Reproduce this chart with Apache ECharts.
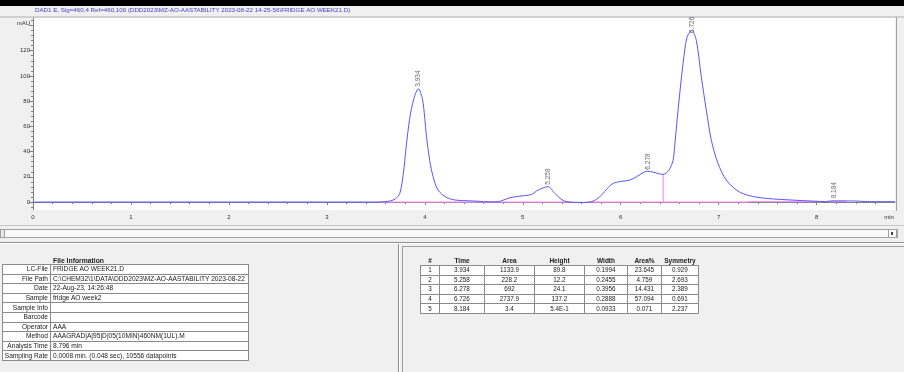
<!DOCTYPE html>
<html><head><meta charset="utf-8">
<script src="https://cdn.jsdelivr.net/npm/echarts@6/dist/echarts.min.js"></script>
<style>
body{margin:0;width:904px;height:372px;overflow:hidden;background:#f0f0f0;font-family:"Liberation Sans",Arial,sans-serif;position:relative;}
#c{position:absolute;left:0;top:0;width:904px;height:372px;}
.abs{position:absolute;}
table{border-collapse:collapse;font-size:6.3px;color:#202020;table-layout:fixed;}
td{border:1px solid #8a8a8a;height:8.6px;padding:0;line-height:8px;white-space:nowrap;overflow:hidden;background:#fff;}
#fi{font-size:6.6px;}
#fi td.l{text-align:right;padding-right:2px;}
#fi td.v{text-align:left;padding-left:2px;}
#pk td{text-align:center;}
#pk th{font-weight:bold;font-size:6.5px;height:8px;padding:0;line-height:8px;text-align:center;border:none;background:transparent;}
</style>
</head><body>
<div id="c"></div>
<!-- scroll bar + separators -->
<div class="abs" style="left:0;top:225px;width:904px;height:1px;background:#c8c8c8"></div>
<div class="abs" style="left:0;top:229px;width:896px;height:7px;border:1px solid #a0a0a0;background:#f8f8f8"></div>
<div class="abs" style="left:0;top:229px;width:3px;height:7px;border:1px solid #a0a0a0;background:#e8e8e8"></div>
<div class="abs" style="left:888px;top:229px;width:7px;height:7px;border:1px solid #a0a0a0;background:#fff"></div>
<div class="abs" style="left:891px;top:232px;width:2px;height:3px;background:#404040"></div>
<div class="abs" style="left:0;top:242px;width:904px;height:1px;background:#909090"></div>
<div class="abs" style="left:0;top:243px;width:904px;height:1px;background:#ffffff"></div>
<div class="abs" style="left:398px;top:244px;width:1px;height:128px;background:#909090"></div>
<div class="abs" style="left:399px;top:244px;width:1px;height:128px;background:#ffffff"></div>
<div class="abs" style="left:402px;top:246px;width:1px;height:126px;background:#a0a0a0"></div>
<div class="abs" style="left:403px;top:246px;width:501px;height:1px;background:#a0a0a0"></div>

<div class="abs" style="left:53px;top:257px;font-size:6.8px;font-weight:bold;color:#202020;">File Information</div>
<table id="fi" class="abs" style="left:2px;top:264px;"></table>
<table id="pk" class="abs" style="left:420px;top:257px;"></table>

<script>
// ---- chromatogram ----
const signalTime = [0.00,0.50,1.00,2.00,3.00,3.50,3.60,3.65,3.70,3.745,3.78,3.81,3.845,3.888,3.934,3.975,4.00,4.017,4.05,4.085,4.135,4.22,4.32,4.45,4.55,4.65,4.75,4.80,4.867,4.95,5.088,5.156,5.258,5.327,5.41,5.48,5.60,5.684,5.75,5.82,5.854,5.92,6.00,6.092,6.16,6.245,6.278,6.33,6.43,6.49,6.534,6.55,6.585,6.636,6.677,6.726,6.772,6.823,6.874,6.925,6.993,7.078,7.197,7.316,7.487,7.79,8.03,8.10,8.16,8.184,8.25,8.40,8.50,8.80];
const signalMAU  = [0,0,0,0,0,0,0.3,1.0,2.5,7,22,44,66,82,89.8,82,66,52,33,20,9.5,3.7,1.5,1.0,0.6,0.2,0.3,1.5,3.4,4.5,6,9.5,12.2,6.9,1.3,0,-0.3,0,2,6.8,10,14.7,16.3,17.4,20,24,24.4,23.7,21.9,25,33,43.7,72.7,109.6,130.7,136,128,99,72.7,49,30.6,17.4,8.7,5,2.9,1.4,0.5,0.3,1.0,0.9,0.9,0.8,0.4,0.3];

// integration baselines (pink)
const baseStartTime = [3.54, 5.65, 7.30, 8.10];
const baseEndTime   = [5.50, 7.30, 8.05, 8.30];
const baseLevel     = [0, 0, 0.3, 0.6];
const dropTime = 6.434, dropTop = 21.9;

// peaks
const peakNo     = ['1','2','3','4','5'];
const peakTime   = ['3.934','5.258','6.278','6.726','8.184'];
const peakArea   = ['1133.9','228.2','692','2737.9','3.4'];
const peakHeight = ['89.8','12.2','24.1','137.2','5.4E-1'];
const peakWidth  = ['0.1994','0.2455','0.3956','0.2888','0.0933'];
const peakAreaPct= ['23.645','4.759','14.431','57.094','0.071'];
const peakSym    = ['0.929','2.693','2.389','0.691','2.237'];
const peakHeaders= ['#','Time','Area','Height','Width','Area%','Symmetry'];

// axes
const xTickValues = [0,1,2,3,4,5,6,7,8];
const xUnit = 'min';
const yTickValues = [0,20,40,60,80,100,120,140];
const yUnit = 'mAU';

// file info
const infoLabels = ['LC-File','File Path','Date','Sample','Sample Info','Barcode','Operator','Method','Analysis Time','Sampling Rate'];
const infoValues = ['FRIDGE AO WEEK21.D','C:\\CHEM32\\1\\DATA\\DDD2023\\MZ-AO-AASTABILITY 2023-08-22','22-Aug-23, 14:26:48','fridge AO week2','','','AAA','AAAGRAD|A|95|D|05(10MIN)460NM(1UL).M','8.796 min','0.0008 min. (0.048 sec), 10556 datapoints'];

const titleText = 'DAD1 E, Sig=460,4 Ref=460,100 (DDD2023\\MZ-AO-AASTABILITY 2023-08-22 14-25-56\\FRIDGE AO WEEK21.D)';

// ---- tables ----
(function(){
  const fi = document.getElementById('fi');
  let h = '<colgroup><col style="width:48px"><col style="width:198px"></colgroup>';
  infoLabels.forEach((l,i)=>{ h += '<tr><td class="l">'+l+'</td><td class="v">'+infoValues[i]+'</td></tr>'; });
  fi.innerHTML = h;
  const pk = document.getElementById('pk');
  const w = [19,45,50,50,43,34,37];
  let g = '<colgroup>'+w.map(x=>'<col style="width:'+x+'px">').join('')+'</colgroup>';
  g += '<tr>'+peakHeaders.map(x=>'<th>'+x+'</th>').join('')+'</tr>';
  peakNo.forEach((n,i)=>{
    g += '<tr>'+[n,peakTime[i],peakArea[i],peakHeight[i],peakWidth[i],peakAreaPct[i],peakSym[i]].map(x=>'<td>'+x+'</td>').join('')+'</tr>';
  });
  pk.innerHTML = g;
})();

// ---- chart ----
const chart = echarts.init(document.getElementById('c'), null, {renderer:'canvas'});
const sig = signalTime.map((t,i)=>[t, signalMAU[i]]);
const base = [];
baseStartTime.forEach((s,i)=>{ base.push([s, baseLevel[i]]); base.push([baseEndTime[i], baseLevel[i]]); base.push([baseEndTime[i], null]); });
const xMinor = []; for (let i=1;i<44;i++){ if (i%5) xMinor.push(+(i*0.2).toFixed(1)); }
const yMinor = []; for (let v=-4; v<=144; v+=4){ if (v%20) yMinor.push(v); }
const peakPts = peakTime.map((t,i)=>{
  const v = parseFloat(peakHeight[i]);
  const d = i===3 ? -4 : (i===4 ? 3 : 2);
  return {value:[parseFloat(t), v], label:{distance:d}};
});
const fontFam = '"Liberation Sans", Arial, sans-serif';
const XMAX = 8.8, YMIN = -6.3, YMAX = 145.9;
chart.setOption({
  animation:false,
  backgroundColor:'#f0f0f0',
  graphic:[
    {type:'rect', shape:{x:0,y:0,width:904,height:6}, style:{fill:'#000'}, z:-1},
    {type:'rect', shape:{x:0,y:16.5,width:904,height:1}, style:{fill:'#b0b0b0'}, z:-1},
    {type:'rect', shape:{x:896,y:17,width:1,height:194}, style:{fill:'#a0a0a0'}, z:-1},
    {type:'text', left:35, top:7.5, style:{text:titleText, fill:'#3c3ccc', font:'6.2px '+fontFam}}
  ],
  grid:{left:33, top:18, width:862, height:192, show:true, backgroundColor:'#ffffff', borderWidth:0},
  xAxis:[
    {type:'value', min:0, max:XMAX, position:'bottom',
     axisLine:{lineStyle:{color:'#808080', width:1}},
     axisTick:{customValues:xTickValues, length:3, lineStyle:{color:'#808080'}},
     axisLabel:{customValues:xTickValues.concat([8.74]), formatter:v=> v>8.5 ? xUnit : String(v), fontSize:6, color:'#303030', margin:4, fontFamily:fontFam},
     splitLine:{show:false}},
    {type:'value', min:0, max:XMAX, position:'bottom',
     axisLine:{show:false},
     axisTick:{customValues:xMinor, length:2, lineStyle:{color:'#808080'}},
     axisLabel:{show:false}, splitLine:{show:false}}
  ],
  yAxis:[
    {type:'value', min:YMIN, max:YMAX, position:'left',
     axisLine:{show:true, lineStyle:{color:'#808080'}},
     axisTick:{show:true, customValues:yTickValues, length:4, lineStyle:{color:'#808080'}},
     axisLabel:{customValues:yTickValues, formatter:v=> v===140 ? '{u|'+yUnit+'}' : String(v), fontSize:6, color:'#303030', margin:3, fontFamily:fontFam,
                rich:{u:{fontSize:6, color:'#303030', fontFamily:fontFam, padding:[0,0,5,0]}}},
     splitLine:{show:false}},
    {type:'value', min:YMIN, max:YMAX, position:'left',
     axisLine:{show:false},
     axisTick:{show:true, customValues:yMinor, length:2, lineStyle:{color:'#808080'}},
     axisLabel:{show:false}, splitLine:{show:false}}
  ],
  series:[
    {type:'line', data:base, symbol:'none', connectNulls:false, lineStyle:{color:'#ff80ff', width:1}, silent:true, z:2},
    {type:'line', data:[[dropTime,0],[dropTime,dropTop]], symbol:'none', lineStyle:{color:'#ff80ff', width:1}, silent:true, z:2},
    {type:'line', data:sig, symbol:'none', smooth:0.3, lineStyle:{color:'#5656ff', width:1}, silent:true, z:3},
    {type:'scatter', data:peakPts, symbolSize:0, silent:true, z:4,
     label:{show:true, position:'top', rotate:90, align:'left', verticalAlign:'middle',
            formatter:p=>peakTime[p.dataIndex], fontSize:6.5, color:'#404040', fontFamily:fontFam}}
  ]
});
</script>
</body></html>
